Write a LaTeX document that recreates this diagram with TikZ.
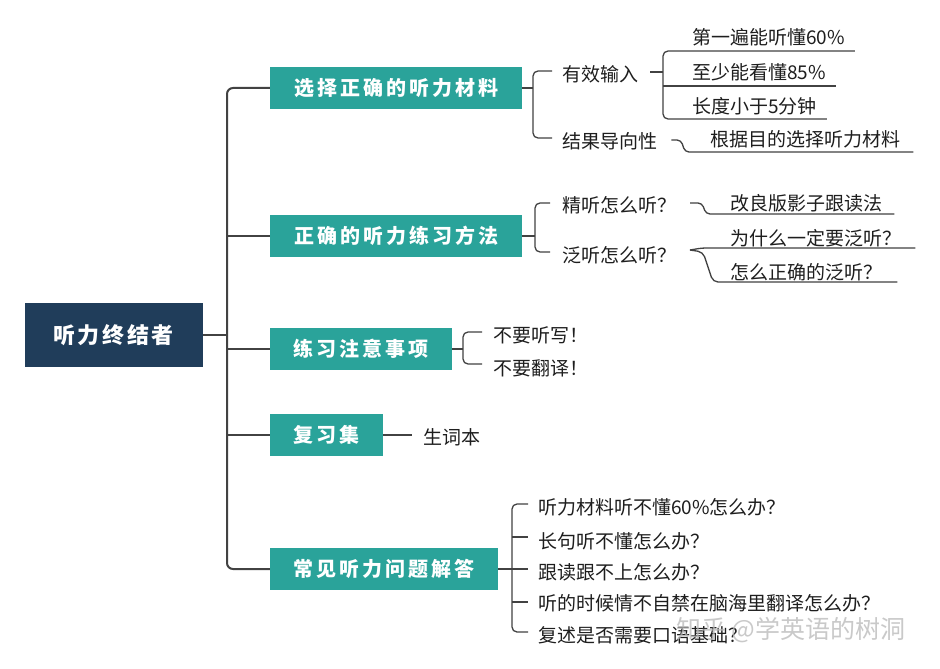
\documentclass[tikz,border=0pt]{standalone}
\usepackage{fontspec}
\setmainfont{Noto Sans CJK SC}
\newfontfamily\boxfont[LetterSpace=15]{Noto Sans CJK SC}
\newfontfamily\rootfont[LetterSpace=12]{Noto Sans CJK SC}
\usetikzlibrary{calc}
\definecolor{tealbox}{RGB}{42,163,154}
\definecolor{navybox}{RGB}{32,61,90}
\definecolor{linec}{RGB}{66,66,66}
\definecolor{txtc}{RGB}{30,30,30}
\tikzset{
  ln/.style={draw=linec,line width=1.3pt},
  trunk/.style={draw=linec,line width=2pt},
  rootbox/.style={fill=navybox,text=white,minimum width=178pt,minimum height=64pt,inner sep=0pt,font=\rootfont\bfseries\fontsize{22}{22}\selectfont},
  lonebox/.style={fill=tealbox,text=white,minimum height=42pt,inner sep=0pt,font=\boxfont\bfseries\fontsize{20}{20}\selectfont},
  leaf/.style={anchor=west,inner sep=0pt,text=txtc,font=\fontsize{19}{19}\selectfont},
  wmark/.style={inner sep=0pt,text=black!28,opacity=0.75,font=\fontsize{25}{25}\selectfont}
}
\begin{document}
\begin{tikzpicture}[x=1pt,y=-1pt]
\useasboundingbox (0,0) rectangle (940,669);
\fill[white] (0,0) rectangle (940,669);
% root and first level
\node[rootbox] (root) at (113.5,335) {听力终结者};
\node[lonebox,minimum width=252pt] (B1) at (396,88) {选择正确的听力材料};
\node[lonebox,minimum width=252pt] (B2) at (396,236) {正确的听力练习方法};
\node[lonebox,minimum width=182pt] (B3) at (361,349) {练习注意事项};
\node[lonebox,minimum width=113pt] (B4) at (326.5,435) {复习集};
\node[lonebox,minimum width=228pt] (B5) at (384,569) {常见听力问题解答};
\coordinate (tx) at (227,0);
% trunk
\draw[trunk,rounded corners=6pt] (B1.west) -- (B1.west -| tx) -- (B5.west -| tx) -- (B5.west);
\draw[trunk] (root.east) -- (root.east -| tx);
\draw[trunk] (B2.west) -- (B2.west -| tx);
\draw[trunk] (B3.west) -- (B3.west -| tx);
\draw[trunk] (B4.west) -- (B4.west -| tx);
% branch 1
\node[leaf] (a1) at (562,74) {有效输入};
\node[leaf] (a2) at (562,141) {结果导向性};
\node[leaf] (a11) at (692,37) {第一遍能听懂60\%};
\node[leaf] (a12) at (692,72) {至少能看懂85\%};
\node[leaf] (a13) at (692,106) {长度小于5分钟};
\node[leaf] (a21) at (710,139) {根据目的选择听力材料};
\draw[ln] (B1.east) -- (B1.east -| 533,0);
\draw[ln,rounded corners=5pt] ($(a1.west)+(-10,-3)$) -- ($(a1.west)+(-29,-3)$) -- ($(a2.west)+(-29,-3)$) -- ($(a2.west)+(-10,-3)$);
\draw[ln] ($(a1.east)+(12,-2)$) -- ($(a11.west)+(-29,35)$);
\draw[ln,rounded corners=5pt] ($(a11.east)+(10,14)$) -- ($(a11.west)+(-29,14)$) -- ($(a13.west)+(-29,13)$) -- ($(a13.east)+(10,13)$);
\draw[ln] ($(a12.west)+(-29,14)$) -- ($(a12.east)+(10,14)$);
\draw[ln,rounded corners=4pt] ($(a2.east)+(14,-1)$) -- ($(a21.west)+(-29,1)$) -- ($(a21.west)+(-25,13)$) -- ($(a21.east)+(13,13)$);
% branch 2
\node[leaf] (b1) at (562,205) {精听怎么听？};
\node[leaf] (b2) at (562,255) {泛听怎么听？};
\node[leaf] (b11) at (730,203) {改良版影子跟读法};
\node[leaf] (b21) at (730,238) {为什么一定要泛听？};
\node[leaf] (b22) at (730,272) {怎么正确的泛听？};
\draw[ln] (B2.east) -- (B2.east -| 535,0);
\draw[ln,rounded corners=5pt] ($(b1.west)+(-12,-2)$) -- ($(b1.west)+(-27,-2)$) -- ($(b2.west)+(-27,-3)$) -- ($(b2.west)+(-12,-3)$);
\draw[ln,rounded corners=4pt] ($(b11.west)+(-40,0)$) -- ($(b11.west)+(-28,0)$) -- ($(b11.west)+(-24,11)$) -- ($(b11.east)+(12,11)$);
\draw[ln,rounded corners=4pt] ($(b21.west)+(-40,12)$) -- ($(b21.west)+(-28,10)$) -- ($(b21.east)+(14,10)$);
\draw[ln,rounded corners=5pt] ($(b21.west)+(-40,12)$) -- ($(b22.west)+(-27,-20)$) -- ($(b22.west)+(-17,10)$) -- ($(b22.east)+(15,10)$);
% branch 3
\node[leaf] (c1) at (493,335) {不要听写！};
\node[leaf] (c2) at (493,368) {不要翻译！};
\draw[ln] (B3.east) -- (B3.east -| 463,0);
\draw[ln,rounded corners=5pt] ($(c1.west)+(-11,-3)$) -- ($(c1.west)+(-30,-3)$) -- ($(c2.west)+(-30,-4)$) -- ($(c2.west)+(-11,-4)$);
% branch 4
\node[leaf] (d1) at (423,437) {生词本};
\draw[ln] (B4.east) -- ($(d1.west)+(-11,-2)$);
% branch 5
\node[leaf] (e1) at (538,507) {听力材料听不懂60\%怎么办？};
\node[leaf] (e2) at (538,541) {长句听不懂怎么办？};
\node[leaf] (e3) at (538,572) {跟读跟不上怎么办？};
\node[leaf] (e4) at (538,603) {听的时候情不自禁在脑海里翻译怎么办？};
\node[leaf] (e5) at (538,635) {复述是否需要口语基础？};
\draw[ln] (B5.east) -- ($(e3.west)+(-10,-3)$);
\draw[ln,rounded corners=5pt] ($(e1.west)+(-10,-3)$) -- ($(e1.west)+(-26,-3)$) -- ($(e5.west)+(-26,-3)$) -- ($(e5.west)+(-10,-3)$);
\draw[ln] ($(e2.west)+(-26,-4)$) -- ($(e2.west)+(-10,-4)$);
\draw[ln] ($(e4.west)+(-26,-1)$) -- ($(e4.west)+(-10,-1)$);
% watermark
\node[wmark] (wm) at (791,630) {知乎 @学英语的树洞};
\end{tikzpicture}
\end{document}
